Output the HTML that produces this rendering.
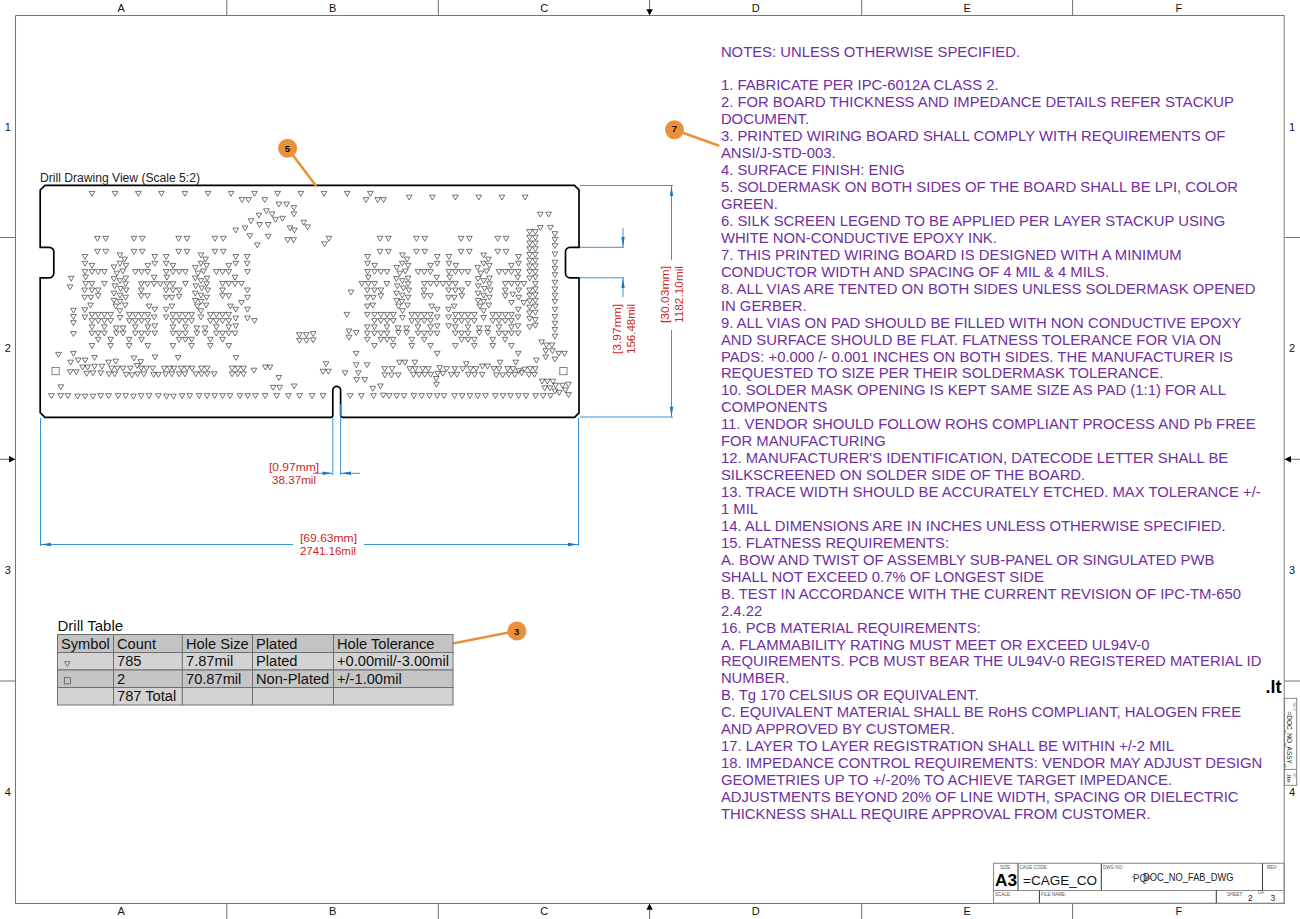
<!DOCTYPE html><html><head><meta charset="utf-8"><style>html,body{margin:0;padding:0;background:#fff;width:1300px;height:919px;overflow:hidden}svg{display:block}text{font-family:"Liberation Sans",sans-serif}</style></head><body>
<svg width="1300" height="919" viewBox="0 0 1300 919">
<g stroke="#767676" stroke-width="1.05" fill="none">
<path d="M15.5 15.5H1284.5M15.5 15.5V903.5M15 903.5H1285"/><line x1="1284.2" y1="15" x2="1284.2" y2="904" stroke="#9a9a9a" stroke-width="1.3"/>
<line x1="226.8" y1="0" x2="226.8" y2="15.5"/><line x1="226.8" y1="903.5" x2="226.8" y2="919"/>
<line x1="438.3" y1="0" x2="438.3" y2="15.5"/><line x1="438.3" y1="903.5" x2="438.3" y2="919"/>
<line x1="861.7" y1="0" x2="861.7" y2="15.5"/><line x1="861.7" y1="903.5" x2="861.7" y2="919"/>
<line x1="1072.6" y1="0" x2="1072.6" y2="15.5"/><line x1="1072.6" y1="903.5" x2="1072.6" y2="919"/>
<line x1="0" y1="237.5" x2="15.5" y2="237.5"/><line x1="1284.5" y1="237.5" x2="1300" y2="237.5"/>
<line x1="0" y1="681" x2="15.5" y2="681"/><line x1="1284.5" y1="681" x2="1300" y2="681"/>
</g>
<g stroke="#555" stroke-width="0.9">
<line x1="649.6" y1="0" x2="649.6" y2="10"/><line x1="649.6" y1="909" x2="649.6" y2="919"/><line x1="0" y1="459.3" x2="9" y2="459.3"/><line x1="1291" y1="459.3" x2="1300" y2="459.3"/>
</g><g fill="#000">
<polygon points="646.4,9.2 652.8,9.2 649.6,15.5"/><polygon points="646.4,909.8 652.8,909.8 649.6,903.5"/>
<polygon points="9,456.1 9,462.5 15.5,459.3"/><polygon points="1291,456.1 1291,462.5 1284.5,459.3"/>
</g>
<g font-size="11" fill="#111" text-anchor="middle">
<text x="121.25" y="12.3">A</text><text x="121.25" y="914.5">A</text>
<text x="332.75" y="12.3">B</text><text x="332.75" y="914.5">B</text>
<text x="544.25" y="12.3">C</text><text x="544.25" y="914.5">C</text>
<text x="755.75" y="12.3">D</text><text x="755.75" y="914.5">D</text>
<text x="967.25" y="12.3">E</text><text x="967.25" y="914.5">E</text>
<text x="1178.75" y="12.3">F</text><text x="1178.75" y="914.5">F</text>
<text x="7.7" y="130.5">1</text><text x="1292" y="130.5">1</text>
<text x="7.7" y="352.3">2</text><text x="1292" y="352.3">2</text>
<text x="7.7" y="574.1">3</text><text x="1292" y="574.1">3</text>
<text x="7.7" y="796">4</text><text x="1292" y="796">4</text>
</g>
<g font-size="14.85" fill="#7030A0">
<text x="720.9" y="56.60">NOTES: UNLESS OTHERWISE SPECIFIED.</text>
<text x="720.9" y="90.48">1. FABRICATE PER IPC-6012A CLASS 2.</text>
<text x="720.9" y="107.42">2. FOR BOARD THICKNESS AND IMPEDANCE DETAILS REFER STACKUP</text>
<text x="720.9" y="124.36">DOCUMENT.</text>
<text x="720.9" y="141.30">3. PRINTED WIRING BOARD SHALL COMPLY WITH REQUIREMENTS OF</text>
<text x="720.9" y="158.24">ANSI/J-STD-003.</text>
<text x="720.9" y="175.18">4. SURFACE FINISH: ENIG</text>
<text x="720.9" y="192.12">5. SOLDERMASK ON BOTH SIDES OF THE BOARD SHALL BE LPI, COLOR</text>
<text x="720.9" y="209.06">GREEN.</text>
<text x="720.9" y="226.00">6. SILK SCREEN LEGEND TO BE APPLIED PER LAYER STACKUP USING</text>
<text x="720.9" y="242.94">WHITE NON-CONDUCTIVE EPOXY INK.</text>
<text x="720.9" y="259.88">7. THIS PRINTED WIRING BOARD IS DESIGNED WITH A MINIMUM</text>
<text x="720.9" y="276.82">CONDUCTOR WIDTH AND SPACING OF 4 MIL &amp; 4 MILS.</text>
<text x="720.9" y="293.76">8. ALL VIAS ARE TENTED ON BOTH SIDES UNLESS SOLDERMASK OPENED</text>
<text x="720.9" y="310.70">IN GERBER.</text>
<text x="720.9" y="327.64">9. ALL VIAS ON PAD SHOULD BE FILLED WITH NON CONDUCTIVE EPOXY</text>
<text x="720.9" y="344.58">AND SURFACE SHOULD BE FLAT. FLATNESS TOLERANCE FOR VIA ON</text>
<text x="720.9" y="361.52">PADS: +0.000 /- 0.001 INCHES ON BOTH SIDES. THE MANUFACTURER IS</text>
<text x="720.9" y="378.46">REQUESTED TO SIZE PER THEIR SOLDERMASK TOLERANCE.</text>
<text x="720.9" y="395.40">10. SOLDER MASK OPENING IS KEPT SAME SIZE AS PAD (1:1) FOR ALL</text>
<text x="720.9" y="412.34">COMPONENTS</text>
<text x="720.9" y="429.28">11. VENDOR SHOULD FOLLOW ROHS COMPLIANT PROCESS AND Pb FREE</text>
<text x="720.9" y="446.22">FOR MANUFACTURING</text>
<text x="720.9" y="463.16">12. MANUFACTURER'S IDENTIFICATION, DATECODE LETTER SHALL BE</text>
<text x="720.9" y="480.10">SILKSCREENED ON SOLDER SIDE OF THE BOARD.</text>
<text x="720.9" y="497.04">13. TRACE WIDTH SHOULD BE ACCURATELY ETCHED. MAX TOLERANCE +/-</text>
<text x="720.9" y="513.98">1 MIL</text>
<text x="720.9" y="530.92">14. ALL DIMENSIONS ARE IN INCHES UNLESS OTHERWISE SPECIFIED.</text>
<text x="720.9" y="547.86">15. FLATNESS REQUIREMENTS:</text>
<text x="720.9" y="564.80">A. BOW AND TWIST OF ASSEMBLY SUB-PANEL OR SINGULATED PWB</text>
<text x="720.9" y="581.74">SHALL NOT EXCEED 0.7% OF LONGEST SIDE</text>
<text x="720.9" y="598.68">B. TEST IN ACCORDANCE WITH THE CURRENT REVISION OF IPC-TM-650</text>
<text x="720.9" y="615.62">2.4.22</text>
<text x="720.9" y="632.56">16. PCB MATERIAL REQUIREMENTS:</text>
<text x="720.9" y="649.50">A. FLAMMABILITY RATING MUST MEET OR EXCEED UL94V-0</text>
<text x="720.9" y="666.44">REQUIREMENTS. PCB MUST BEAR THE UL94V-0 REGISTERED MATERIAL ID</text>
<text x="720.9" y="683.38">NUMBER.</text>
<text x="720.9" y="700.32">B. Tg 170 CELSIUS OR EQUIVALENT.</text>
<text x="720.9" y="717.26">C. EQUIVALENT MATERIAL SHALL BE RoHS COMPLIANT, HALOGEN FREE</text>
<text x="720.9" y="734.20">AND APPROVED BY CUSTOMER.</text>
<text x="720.9" y="751.14">17. LAYER TO LAYER REGISTRATION SHALL BE WITHIN +/-2 MIL</text>
<text x="720.9" y="768.08">18. IMPEDANCE CONTROL REQUIREMENTS: VENDOR MAY ADJUST DESIGN</text>
<text x="720.9" y="785.02">GEOMETRIES UP TO +/-20% TO ACHIEVE TARGET IMPEDANCE.</text>
<text x="720.9" y="801.96">ADJUSTMENTS BEYOND 20% OF LINE WIDTH, SPACING OR DIELECTRIC</text>
<text x="720.9" y="818.90">THICKNESS SHALL REQUIRE APPROVAL FROM CUSTOMER.</text>
</g>
<path d="M89.07 191.38h5.7l-2.85 4.9zM112.23 191.38h5.7l-2.85 4.9zM135.49 191.38h5.7l-2.85 4.9zM158.65 191.38h5.7l-2.85 4.9zM94.57 236.34h5.7l-2.85 4.9zM102.88 236.34h5.7l-2.85 4.9zM131.13 236.34h5.7l-2.85 4.9zM139.43 236.34h5.7l-2.85 4.9zM94.57 249.32h5.7l-2.85 4.9zM102.88 249.32h5.7l-2.85 4.9zM131.13 249.32h5.7l-2.85 4.9zM139.43 249.32h5.7l-2.85 4.9zM82.11 254.51h5.7l-2.85 4.9zM117.11 252.96h5.7l-2.85 4.9zM151.90 254.51h5.7l-2.85 4.9zM163.32 254.51h5.7l-2.85 4.9zM121.78 257.11h5.7l-2.85 4.9zM82.11 261.26h5.7l-2.85 4.9zM89.07 263.34h5.7l-2.85 4.9zM117.11 261.26h5.7l-2.85 4.9zM123.13 263.34h5.7l-2.85 4.9zM144.94 263.34h5.7l-2.85 4.9zM151.90 261.26h5.7l-2.85 4.9zM163.32 261.26h5.7l-2.85 4.9zM170.07 263.34h5.7l-2.85 4.9zM111.09 264.90h5.7l-2.85 4.9zM82.11 269.57h5.7l-2.85 4.9zM89.07 269.57h5.7l-2.85 4.9zM95.30 269.57h5.7l-2.85 4.9zM101.53 269.57h5.7l-2.85 4.9zM119.91 269.05h5.7l-2.85 4.9zM132.48 269.57h5.7l-2.85 4.9zM138.71 269.57h5.7l-2.85 4.9zM144.94 269.57h5.7l-2.85 4.9zM163.32 269.57h5.7l-2.85 4.9zM170.07 269.57h5.7l-2.85 4.9zM113.99 271.13h5.7l-2.85 4.9zM68.30 276.26h5.7l-2.85 4.9zM82.84 275.02h5.7l-2.85 4.9zM111.09 276.57h5.7l-2.85 4.9zM122.82 276.05h5.7l-2.85 4.9zM151.17 275.22h5.7l-2.85 4.9zM164.05 275.22h5.7l-2.85 4.9zM117.11 278.65h5.7l-2.85 4.9zM67.26 284.88h5.7l-2.85 4.9zM82.84 281.45h5.7l-2.85 4.9zM89.07 281.45h5.7l-2.85 4.9zM101.53 281.45h5.7l-2.85 4.9zM111.92 283.84h5.7l-2.85 4.9zM122.82 281.77h5.7l-2.85 4.9zM138.40 281.77h5.7l-2.85 4.9zM144.63 281.77h5.7l-2.85 4.9zM151.17 281.45h5.7l-2.85 4.9zM157.61 281.77h5.7l-2.85 4.9zM164.05 281.77h5.7l-2.85 4.9zM170.07 281.77h5.7l-2.85 4.9zM81.80 288.00h5.7l-2.85 4.9zM89.07 288.00h5.7l-2.85 4.9zM95.30 288.00h5.7l-2.85 4.9zM117.63 286.44h5.7l-2.85 4.9zM123.34 288.00h5.7l-2.85 4.9zM138.40 288.00h5.7l-2.85 4.9zM163.32 288.00h5.7l-2.85 4.9zM170.07 288.00h5.7l-2.85 4.9zM111.09 291.11h5.7l-2.85 4.9zM81.80 295.26h5.7l-2.85 4.9zM88.03 295.26h5.7l-2.85 4.9zM95.30 293.71h5.7l-2.85 4.9zM117.11 293.19h5.7l-2.85 4.9zM122.82 295.26h5.7l-2.85 4.9zM138.40 293.71h5.7l-2.85 4.9zM144.63 293.71h5.7l-2.85 4.9zM163.32 295.26h5.7l-2.85 4.9zM169.03 295.26h5.7l-2.85 4.9zM111.09 298.38h5.7l-2.85 4.9zM117.11 299.42h5.7l-2.85 4.9zM87.72 303.05h5.7l-2.85 4.9zM112.95 304.09h5.7l-2.85 4.9zM122.30 303.05h5.7l-2.85 4.9zM146.18 304.09h5.7l-2.85 4.9zM151.90 307.21h5.7l-2.85 4.9zM163.32 307.21h5.7l-2.85 4.9zM169.03 304.09h5.7l-2.85 4.9zM70.59 308.24h5.7l-2.85 4.9zM82.01 307.73h5.7l-2.85 4.9zM117.11 308.76h5.7l-2.85 4.9zM70.59 314.48h5.7l-2.85 4.9zM82.01 314.99h5.7l-2.85 4.9zM89.07 312.40h5.7l-2.85 4.9zM95.30 312.40h5.7l-2.85 4.9zM101.53 312.40h5.7l-2.85 4.9zM107.76 312.40h5.7l-2.85 4.9zM117.11 315.51h5.7l-2.85 4.9zM126.45 312.40h5.7l-2.85 4.9zM132.48 312.40h5.7l-2.85 4.9zM138.71 312.40h5.7l-2.85 4.9zM144.94 312.40h5.7l-2.85 4.9zM151.38 314.99h5.7l-2.85 4.9zM163.32 314.99h5.7l-2.85 4.9zM170.07 312.40h5.7l-2.85 4.9zM70.59 320.71h5.7l-2.85 4.9zM89.07 318.63h5.7l-2.85 4.9zM95.30 318.63h5.7l-2.85 4.9zM101.53 318.63h5.7l-2.85 4.9zM107.76 318.63h5.7l-2.85 4.9zM126.45 318.63h5.7l-2.85 4.9zM132.48 318.63h5.7l-2.85 4.9zM138.71 318.63h5.7l-2.85 4.9zM144.94 318.63h5.7l-2.85 4.9zM170.07 318.63h5.7l-2.85 4.9zM89.07 324.86h5.7l-2.85 4.9zM101.53 324.86h5.7l-2.85 4.9zM113.47 325.90h5.7l-2.85 4.9zM120.22 325.90h5.7l-2.85 4.9zM132.48 324.86h5.7l-2.85 4.9zM144.94 324.86h5.7l-2.85 4.9zM151.90 323.82h5.7l-2.85 4.9zM170.07 324.86h5.7l-2.85 4.9zM70.59 331.61h5.7l-2.85 4.9zM89.07 331.09h5.7l-2.85 4.9zM95.30 331.09h5.7l-2.85 4.9zM101.53 331.09h5.7l-2.85 4.9zM113.47 331.09h5.7l-2.85 4.9zM120.22 331.09h5.7l-2.85 4.9zM132.48 331.09h5.7l-2.85 4.9zM138.71 331.09h5.7l-2.85 4.9zM144.94 331.09h5.7l-2.85 4.9zM151.90 331.09h5.7l-2.85 4.9zM170.07 331.09h5.7l-2.85 4.9zM95.30 337.32h5.7l-2.85 4.9zM107.76 337.32h5.7l-2.85 4.9zM126.25 337.32h5.7l-2.85 4.9zM138.71 337.32h5.7l-2.85 4.9zM89.07 343.55h5.7l-2.85 4.9zM107.76 343.55h5.7l-2.85 4.9zM126.25 343.55h5.7l-2.85 4.9zM144.94 343.55h5.7l-2.85 4.9zM170.07 343.55h5.7l-2.85 4.9zM55.63 352.38h5.7l-2.85 4.9zM70.59 351.34h5.7l-2.85 4.9zM91.67 355.49h5.7l-2.85 4.9zM131.13 356.01h5.7l-2.85 4.9zM152.21 354.97h5.7l-2.85 4.9zM67.78 360.17h5.7l-2.85 4.9zM75.36 358.09h5.7l-2.85 4.9zM82.32 358.09h5.7l-2.85 4.9zM105.69 360.17h5.7l-2.85 4.9zM112.95 359.13h5.7l-2.85 4.9zM137.88 359.65h5.7l-2.85 4.9zM79.73 365.09h5.7l-2.85 4.9zM84.71 365.09h5.7l-2.85 4.9zM91.67 364.26h5.7l-2.85 4.9zM99.14 364.26h5.7l-2.85 4.9zM108.80 366.13h5.7l-2.85 4.9zM114.51 366.13h5.7l-2.85 4.9zM120.22 366.13h5.7l-2.85 4.9zM127.49 366.13h5.7l-2.85 4.9zM134.24 363.53h5.7l-2.85 4.9zM138.40 366.13h5.7l-2.85 4.9zM143.59 366.13h5.7l-2.85 4.9zM149.82 366.13h5.7l-2.85 4.9zM161.24 366.13h5.7l-2.85 4.9zM166.95 366.13h5.7l-2.85 4.9zM171.11 366.13h5.7l-2.85 4.9zM67.26 369.77h5.7l-2.85 4.9zM73.49 369.77h5.7l-2.85 4.9zM83.88 371.32h5.7l-2.85 4.9zM90.11 370.80h5.7l-2.85 4.9zM97.90 370.80h5.7l-2.85 4.9zM106.21 371.84h5.7l-2.85 4.9zM111.92 371.84h5.7l-2.85 4.9zM123.34 372.36h5.7l-2.85 4.9zM129.05 372.88h5.7l-2.85 4.9zM134.76 371.84h5.7l-2.85 4.9zM140.99 371.84h5.7l-2.85 4.9zM150.86 372.36h5.7l-2.85 4.9zM155.53 372.36h5.7l-2.85 4.9zM162.80 371.84h5.7l-2.85 4.9zM169.03 371.84h5.7l-2.85 4.9zM57.92 384.82h5.7l-2.85 4.9zM48.57 393.65h5.7l-2.85 4.9zM57.92 393.65h5.7l-2.85 4.9zM64.98 393.65h5.7l-2.85 4.9zM74.74 394.17h5.7l-2.85 4.9zM82.32 394.17h5.7l-2.85 4.9zM90.11 394.17h5.7l-2.85 4.9zM97.90 393.65h5.7l-2.85 4.9zM105.69 393.65h5.7l-2.85 4.9zM115.24 393.65h5.7l-2.85 4.9zM122.82 393.65h5.7l-2.85 4.9zM130.61 394.17h5.7l-2.85 4.9zM138.40 393.65h5.7l-2.85 4.9zM146.18 393.65h5.7l-2.85 4.9zM155.53 393.65h5.7l-2.85 4.9zM163.63 394.17h5.7l-2.85 4.9zM170.59 394.17h5.7l-2.85 4.9zM182.02 191.38h5.7l-2.85 4.9zM205.17 191.38h5.7l-2.85 4.9zM228.22 191.38h5.7l-2.85 4.9zM251.59 191.38h5.7l-2.85 4.9zM274.75 191.38h5.7l-2.85 4.9zM298.01 191.38h5.7l-2.85 4.9zM239.13 197.61h5.7l-2.85 4.9zM245.67 197.61h5.7l-2.85 4.9zM261.97 197.61h5.7l-2.85 4.9zM275.99 202.07h5.7l-2.85 4.9zM283.78 202.07h5.7l-2.85 4.9zM291.05 205.71h5.7l-2.85 4.9zM263.53 208.82h5.7l-2.85 4.9zM269.24 211.94h5.7l-2.85 4.9zM291.05 211.94h5.7l-2.85 4.9zM256.05 213.18h5.7l-2.85 4.9zM272.67 217.34h5.7l-2.85 4.9zM279.63 216.30h5.7l-2.85 4.9zM248.16 218.69h5.7l-2.85 4.9zM256.78 222.53h5.7l-2.85 4.9zM265.40 222.53h5.7l-2.85 4.9zM300.91 220.24h5.7l-2.85 4.9zM304.86 224.92h5.7l-2.85 4.9zM232.90 228.03h5.7l-2.85 4.9zM242.24 225.96h5.7l-2.85 4.9zM287.21 225.96h5.7l-2.85 4.9zM291.57 228.03h5.7l-2.85 4.9zM175.78 236.34h5.7l-2.85 4.9zM184.09 236.34h5.7l-2.85 4.9zM212.13 236.34h5.7l-2.85 4.9zM220.44 236.34h5.7l-2.85 4.9zM246.92 233.74h5.7l-2.85 4.9zM265.40 234.26h5.7l-2.85 4.9zM284.82 237.69h5.7l-2.85 4.9zM290.74 237.69h5.7l-2.85 4.9zM254.39 242.88h5.7l-2.85 4.9zM175.78 249.32h5.7l-2.85 4.9zM184.09 249.32h5.7l-2.85 4.9zM212.13 249.32h5.7l-2.85 4.9zM220.44 249.32h5.7l-2.85 4.9zM198.11 252.96h5.7l-2.85 4.9zM202.78 257.11h5.7l-2.85 4.9zM232.90 254.51h5.7l-2.85 4.9zM244.32 254.51h5.7l-2.85 4.9zM198.11 261.26h5.7l-2.85 4.9zM203.82 263.34h5.7l-2.85 4.9zM225.94 263.34h5.7l-2.85 4.9zM232.90 261.26h5.7l-2.85 4.9zM244.32 261.26h5.7l-2.85 4.9zM192.40 265.42h5.7l-2.85 4.9zM176.30 269.57h5.7l-2.85 4.9zM182.53 269.57h5.7l-2.85 4.9zM200.71 269.05h5.7l-2.85 4.9zM213.48 269.57h5.7l-2.85 4.9zM219.71 269.57h5.7l-2.85 4.9zM225.94 269.57h5.7l-2.85 4.9zM244.63 269.57h5.7l-2.85 4.9zM195.20 271.13h5.7l-2.85 4.9zM192.40 276.05h5.7l-2.85 4.9zM204.13 276.05h5.7l-2.85 4.9zM232.17 275.22h5.7l-2.85 4.9zM198.11 278.65h5.7l-2.85 4.9zM182.53 281.45h5.7l-2.85 4.9zM192.92 283.84h5.7l-2.85 4.9zM203.82 281.77h5.7l-2.85 4.9zM219.71 281.45h5.7l-2.85 4.9zM225.94 281.45h5.7l-2.85 4.9zM232.17 281.45h5.7l-2.85 4.9zM238.61 281.45h5.7l-2.85 4.9zM176.30 288.00h5.7l-2.85 4.9zM198.94 285.92h5.7l-2.85 4.9zM204.86 288.00h5.7l-2.85 4.9zM219.71 288.00h5.7l-2.85 4.9zM244.63 288.00h5.7l-2.85 4.9zM192.40 291.11h5.7l-2.85 4.9zM176.30 294.23h5.7l-2.85 4.9zM198.11 293.19h5.7l-2.85 4.9zM203.82 295.26h5.7l-2.85 4.9zM219.71 293.71h5.7l-2.85 4.9zM225.94 293.71h5.7l-2.85 4.9zM244.63 295.26h5.7l-2.85 4.9zM192.40 298.38h5.7l-2.85 4.9zM198.11 299.42h5.7l-2.85 4.9zM238.61 300.46h5.7l-2.85 4.9zM194.48 304.09h5.7l-2.85 4.9zM203.30 303.05h5.7l-2.85 4.9zM227.50 304.09h5.7l-2.85 4.9zM232.90 307.21h5.7l-2.85 4.9zM244.63 307.21h5.7l-2.85 4.9zM198.11 308.76h5.7l-2.85 4.9zM176.30 312.40h5.7l-2.85 4.9zM182.53 312.40h5.7l-2.85 4.9zM188.76 312.40h5.7l-2.85 4.9zM207.46 312.40h5.7l-2.85 4.9zM213.48 312.40h5.7l-2.85 4.9zM219.71 312.40h5.7l-2.85 4.9zM225.94 312.40h5.7l-2.85 4.9zM198.11 314.99h5.7l-2.85 4.9zM232.90 316.03h5.7l-2.85 4.9zM244.63 316.03h5.7l-2.85 4.9zM251.59 318.63h5.7l-2.85 4.9zM176.30 318.63h5.7l-2.85 4.9zM182.53 318.63h5.7l-2.85 4.9zM188.76 318.63h5.7l-2.85 4.9zM207.46 318.63h5.7l-2.85 4.9zM213.48 318.63h5.7l-2.85 4.9zM219.71 318.63h5.7l-2.85 4.9zM225.94 318.63h5.7l-2.85 4.9zM182.53 324.86h5.7l-2.85 4.9zM193.96 325.90h5.7l-2.85 4.9zM202.26 325.90h5.7l-2.85 4.9zM213.48 324.86h5.7l-2.85 4.9zM225.94 324.86h5.7l-2.85 4.9zM232.90 323.82h5.7l-2.85 4.9zM176.30 331.09h5.7l-2.85 4.9zM182.53 331.09h5.7l-2.85 4.9zM193.96 331.09h5.7l-2.85 4.9zM202.26 331.09h5.7l-2.85 4.9zM213.48 331.09h5.7l-2.85 4.9zM219.71 331.09h5.7l-2.85 4.9zM225.94 331.09h5.7l-2.85 4.9zM232.17 331.09h5.7l-2.85 4.9zM176.30 337.32h5.7l-2.85 4.9zM182.53 337.32h5.7l-2.85 4.9zM188.76 337.32h5.7l-2.85 4.9zM207.46 337.32h5.7l-2.85 4.9zM219.71 337.32h5.7l-2.85 4.9zM296.55 332.65h5.7l-2.85 4.9zM303.51 332.65h5.7l-2.85 4.9zM296.55 338.36h5.7l-2.85 4.9zM303.51 338.36h5.7l-2.85 4.9zM188.76 343.55h5.7l-2.85 4.9zM207.46 343.55h5.7l-2.85 4.9zM225.94 343.55h5.7l-2.85 4.9zM175.27 355.49h5.7l-2.85 4.9zM233.21 355.49h5.7l-2.85 4.9zM178.38 366.13h5.7l-2.85 4.9zM184.09 366.13h5.7l-2.85 4.9zM189.28 366.13h5.7l-2.85 4.9zM198.63 366.13h5.7l-2.85 4.9zM204.34 366.13h5.7l-2.85 4.9zM229.26 366.13h5.7l-2.85 4.9zM234.97 366.13h5.7l-2.85 4.9zM240.69 366.13h5.7l-2.85 4.9zM251.07 368.21h5.7l-2.85 4.9zM262.49 365.09h5.7l-2.85 4.9zM267.17 365.09h5.7l-2.85 4.9zM176.30 371.84h5.7l-2.85 4.9zM182.02 371.84h5.7l-2.85 4.9zM192.92 371.84h5.7l-2.85 4.9zM198.63 371.84h5.7l-2.85 4.9zM204.34 371.84h5.7l-2.85 4.9zM211.40 371.84h5.7l-2.85 4.9zM229.26 371.84h5.7l-2.85 4.9zM234.97 371.84h5.7l-2.85 4.9zM240.69 371.84h5.7l-2.85 4.9zM275.99 375.48h5.7l-2.85 4.9zM270.28 385.34h5.7l-2.85 4.9zM276.82 385.34h5.7l-2.85 4.9zM291.36 383.99h5.7l-2.85 4.9zM179.21 393.65h5.7l-2.85 4.9zM186.90 393.65h5.7l-2.85 4.9zM196.24 393.65h5.7l-2.85 4.9zM204.13 393.65h5.7l-2.85 4.9zM211.82 393.65h5.7l-2.85 4.9zM219.71 393.65h5.7l-2.85 4.9zM227.19 393.65h5.7l-2.85 4.9zM237.05 393.65h5.7l-2.85 4.9zM244.84 393.65h5.7l-2.85 4.9zM252.63 393.65h5.7l-2.85 4.9zM262.28 393.65h5.7l-2.85 4.9zM273.92 393.65h5.7l-2.85 4.9zM285.55 393.65h5.7l-2.85 4.9zM296.76 393.65h5.7l-2.85 4.9zM321.17 191.38h5.7l-2.85 4.9zM344.33 191.38h5.7l-2.85 4.9zM367.59 191.38h5.7l-2.85 4.9zM363.22 197.61h5.7l-2.85 4.9zM374.86 197.61h5.7l-2.85 4.9zM380.67 197.61h5.7l-2.85 4.9zM406.32 195.11h5.7l-2.85 4.9zM429.48 195.11h5.7l-2.85 4.9zM326.05 236.34h5.7l-2.85 4.9zM321.69 241.84h5.7l-2.85 4.9zM377.24 236.34h5.7l-2.85 4.9zM385.55 236.34h5.7l-2.85 4.9zM413.59 236.34h5.7l-2.85 4.9zM421.90 236.34h5.7l-2.85 4.9zM377.24 249.32h5.7l-2.85 4.9zM385.55 249.32h5.7l-2.85 4.9zM413.59 249.32h5.7l-2.85 4.9zM421.90 249.32h5.7l-2.85 4.9zM364.78 254.51h5.7l-2.85 4.9zM399.57 252.96h5.7l-2.85 4.9zM404.24 257.11h5.7l-2.85 4.9zM434.36 254.51h5.7l-2.85 4.9zM364.78 261.26h5.7l-2.85 4.9zM371.74 263.34h5.7l-2.85 4.9zM399.36 261.26h5.7l-2.85 4.9zM405.28 263.34h5.7l-2.85 4.9zM393.86 265.42h5.7l-2.85 4.9zM427.61 263.34h5.7l-2.85 4.9zM434.36 261.26h5.7l-2.85 4.9zM364.78 269.57h5.7l-2.85 4.9zM371.74 269.57h5.7l-2.85 4.9zM377.97 269.57h5.7l-2.85 4.9zM384.20 269.57h5.7l-2.85 4.9zM402.48 269.05h5.7l-2.85 4.9zM415.15 269.57h5.7l-2.85 4.9zM421.38 269.57h5.7l-2.85 4.9zM427.61 269.57h5.7l-2.85 4.9zM396.97 271.13h5.7l-2.85 4.9zM365.51 275.22h5.7l-2.85 4.9zM393.55 276.57h5.7l-2.85 4.9zM405.28 276.05h5.7l-2.85 4.9zM433.84 275.22h5.7l-2.85 4.9zM399.57 278.65h5.7l-2.85 4.9zM359.07 281.45h5.7l-2.85 4.9zM365.51 281.45h5.7l-2.85 4.9zM371.74 281.45h5.7l-2.85 4.9zM383.99 281.45h5.7l-2.85 4.9zM394.38 283.84h5.7l-2.85 4.9zM405.28 281.77h5.7l-2.85 4.9zM421.38 281.45h5.7l-2.85 4.9zM427.61 281.45h5.7l-2.85 4.9zM433.84 281.45h5.7l-2.85 4.9zM440.07 281.45h5.7l-2.85 4.9zM348.17 290.07h5.7l-2.85 4.9zM364.47 288.00h5.7l-2.85 4.9zM371.53 288.00h5.7l-2.85 4.9zM377.97 288.00h5.7l-2.85 4.9zM400.40 285.92h5.7l-2.85 4.9zM406.01 288.00h5.7l-2.85 4.9zM421.17 288.00h5.7l-2.85 4.9zM393.55 291.11h5.7l-2.85 4.9zM364.47 295.26h5.7l-2.85 4.9zM370.49 295.26h5.7l-2.85 4.9zM377.97 293.71h5.7l-2.85 4.9zM399.36 293.19h5.7l-2.85 4.9zM405.28 295.26h5.7l-2.85 4.9zM421.17 293.71h5.7l-2.85 4.9zM427.61 293.71h5.7l-2.85 4.9zM393.86 298.38h5.7l-2.85 4.9zM399.05 299.42h5.7l-2.85 4.9zM364.47 304.09h5.7l-2.85 4.9zM369.97 303.05h5.7l-2.85 4.9zM395.62 304.09h5.7l-2.85 4.9zM404.76 303.05h5.7l-2.85 4.9zM428.85 304.09h5.7l-2.85 4.9zM434.36 307.21h5.7l-2.85 4.9zM399.57 308.76h5.7l-2.85 4.9zM344.01 312.40h5.7l-2.85 4.9zM364.47 312.40h5.7l-2.85 4.9zM371.74 312.40h5.7l-2.85 4.9zM377.97 312.40h5.7l-2.85 4.9zM384.20 312.40h5.7l-2.85 4.9zM390.43 312.40h5.7l-2.85 4.9zM399.57 315.51h5.7l-2.85 4.9zM408.92 312.40h5.7l-2.85 4.9zM415.15 312.40h5.7l-2.85 4.9zM421.38 312.40h5.7l-2.85 4.9zM427.61 312.40h5.7l-2.85 4.9zM434.36 314.99h5.7l-2.85 4.9zM371.53 318.63h5.7l-2.85 4.9zM377.97 318.63h5.7l-2.85 4.9zM384.20 318.63h5.7l-2.85 4.9zM390.43 318.63h5.7l-2.85 4.9zM408.92 318.63h5.7l-2.85 4.9zM415.15 318.63h5.7l-2.85 4.9zM421.38 318.63h5.7l-2.85 4.9zM427.61 318.63h5.7l-2.85 4.9zM364.47 324.86h5.7l-2.85 4.9zM371.53 324.86h5.7l-2.85 4.9zM383.99 324.86h5.7l-2.85 4.9zM395.21 325.90h5.7l-2.85 4.9zM403.72 325.90h5.7l-2.85 4.9zM415.15 324.86h5.7l-2.85 4.9zM427.61 324.86h5.7l-2.85 4.9zM434.36 323.82h5.7l-2.85 4.9zM310.27 331.61h5.7l-2.85 4.9zM346.09 329.01h5.7l-2.85 4.9zM353.36 330.57h5.7l-2.85 4.9zM364.47 331.09h5.7l-2.85 4.9zM371.53 331.09h5.7l-2.85 4.9zM377.97 331.09h5.7l-2.85 4.9zM384.20 331.09h5.7l-2.85 4.9zM395.62 330.57h5.7l-2.85 4.9zM403.72 330.57h5.7l-2.85 4.9zM415.15 331.09h5.7l-2.85 4.9zM421.38 331.09h5.7l-2.85 4.9zM427.61 331.09h5.7l-2.85 4.9zM434.36 331.09h5.7l-2.85 4.9zM310.27 337.84h5.7l-2.85 4.9zM346.09 335.24h5.7l-2.85 4.9zM364.47 337.32h5.7l-2.85 4.9zM377.97 337.32h5.7l-2.85 4.9zM384.20 337.32h5.7l-2.85 4.9zM390.22 337.32h5.7l-2.85 4.9zM408.92 337.32h5.7l-2.85 4.9zM421.38 337.32h5.7l-2.85 4.9zM371.53 343.55h5.7l-2.85 4.9zM390.22 343.55h5.7l-2.85 4.9zM408.92 343.55h5.7l-2.85 4.9zM427.61 343.55h5.7l-2.85 4.9zM353.36 351.34h5.7l-2.85 4.9zM434.36 351.34h5.7l-2.85 4.9zM323.25 361.72h5.7l-2.85 4.9zM353.36 362.76h5.7l-2.85 4.9zM364.26 362.76h5.7l-2.85 4.9zM396.66 360.17h5.7l-2.85 4.9zM402.17 360.17h5.7l-2.85 4.9zM412.03 360.17h5.7l-2.85 4.9zM320.13 369.25h5.7l-2.85 4.9zM325.63 369.25h5.7l-2.85 4.9zM342.25 370.80h5.7l-2.85 4.9zM355.44 370.80h5.7l-2.85 4.9zM381.92 366.65h5.7l-2.85 4.9zM389.19 366.65h5.7l-2.85 4.9zM406.84 366.65h5.7l-2.85 4.9zM412.55 366.65h5.7l-2.85 4.9zM419.82 366.65h5.7l-2.85 4.9zM425.53 366.65h5.7l-2.85 4.9zM436.95 365.61h5.7l-2.85 4.9zM381.92 372.88h5.7l-2.85 4.9zM388.67 372.88h5.7l-2.85 4.9zM395.42 372.88h5.7l-2.85 4.9zM410.47 372.36h5.7l-2.85 4.9zM416.18 372.36h5.7l-2.85 4.9zM421.90 372.36h5.7l-2.85 4.9zM427.81 372.36h5.7l-2.85 4.9zM434.88 371.32h5.7l-2.85 4.9zM440.07 371.32h5.7l-2.85 4.9zM353.88 377.55h5.7l-2.85 4.9zM361.98 377.55h5.7l-2.85 4.9zM433.32 376.51h5.7l-2.85 4.9zM433.63 382.23h5.7l-2.85 4.9zM369.97 386.38h5.7l-2.85 4.9zM377.55 383.99h5.7l-2.85 4.9zM309.23 393.65h5.7l-2.85 4.9zM320.13 393.65h5.7l-2.85 4.9zM347.44 393.65h5.7l-2.85 4.9zM358.55 393.65h5.7l-2.85 4.9zM370.70 393.65h5.7l-2.85 4.9zM380.36 393.13h5.7l-2.85 4.9zM386.28 393.65h5.7l-2.85 4.9zM393.86 393.65h5.7l-2.85 4.9zM401.13 393.65h5.7l-2.85 4.9zM410.99 393.65h5.7l-2.85 4.9zM418.78 393.65h5.7l-2.85 4.9zM426.57 393.65h5.7l-2.85 4.9zM434.36 393.65h5.7l-2.85 4.9zM441.11 393.65h5.7l-2.85 4.9zM452.53 195.11h5.7l-2.85 4.9zM475.90 195.11h5.7l-2.85 4.9zM499.06 195.11h5.7l-2.85 4.9zM522.32 195.11h5.7l-2.85 4.9zM537.48 212.15h5.7l-2.85 4.9zM545.78 212.15h5.7l-2.85 4.9zM537.48 225.44h5.7l-2.85 4.9zM547.55 225.44h5.7l-2.85 4.9zM526.78 229.59h5.7l-2.85 4.9zM532.49 229.59h5.7l-2.85 4.9zM552.02 231.67h5.7l-2.85 4.9zM458.25 236.34h5.7l-2.85 4.9zM466.55 236.34h5.7l-2.85 4.9zM494.90 236.34h5.7l-2.85 4.9zM503.21 236.34h5.7l-2.85 4.9zM526.78 235.30h5.7l-2.85 4.9zM532.49 235.30h5.7l-2.85 4.9zM552.02 237.38h5.7l-2.85 4.9zM526.78 241.01h5.7l-2.85 4.9zM532.49 241.01h5.7l-2.85 4.9zM552.02 243.61h5.7l-2.85 4.9zM526.78 246.72h5.7l-2.85 4.9zM532.49 246.72h5.7l-2.85 4.9zM458.25 249.32h5.7l-2.85 4.9zM466.55 249.32h5.7l-2.85 4.9zM494.90 249.32h5.7l-2.85 4.9zM503.21 249.32h5.7l-2.85 4.9zM446.10 254.51h5.7l-2.85 4.9zM480.78 252.96h5.7l-2.85 4.9zM485.56 257.11h5.7l-2.85 4.9zM515.67 254.51h5.7l-2.85 4.9zM526.78 252.44h5.7l-2.85 4.9zM532.49 252.44h5.7l-2.85 4.9zM552.02 251.92h5.7l-2.85 4.9zM446.10 261.26h5.7l-2.85 4.9zM453.05 263.34h5.7l-2.85 4.9zM480.78 261.26h5.7l-2.85 4.9zM486.59 263.34h5.7l-2.85 4.9zM474.86 265.42h5.7l-2.85 4.9zM508.61 263.34h5.7l-2.85 4.9zM515.67 261.26h5.7l-2.85 4.9zM526.78 258.15h5.7l-2.85 4.9zM532.49 258.15h5.7l-2.85 4.9zM552.02 260.22h5.7l-2.85 4.9zM446.10 269.57h5.7l-2.85 4.9zM452.53 269.57h5.7l-2.85 4.9zM458.76 269.57h5.7l-2.85 4.9zM465.20 269.57h5.7l-2.85 4.9zM483.69 269.05h5.7l-2.85 4.9zM496.15 269.57h5.7l-2.85 4.9zM502.38 269.57h5.7l-2.85 4.9zM508.61 269.57h5.7l-2.85 4.9zM515.36 269.57h5.7l-2.85 4.9zM526.78 263.86h5.7l-2.85 4.9zM532.49 263.86h5.7l-2.85 4.9zM552.02 266.45h5.7l-2.85 4.9zM477.98 271.13h5.7l-2.85 4.9zM526.78 269.57h5.7l-2.85 4.9zM532.49 269.57h5.7l-2.85 4.9zM552.02 272.69h5.7l-2.85 4.9zM446.82 275.22h5.7l-2.85 4.9zM475.17 276.57h5.7l-2.85 4.9zM480.78 278.65h5.7l-2.85 4.9zM486.59 276.05h5.7l-2.85 4.9zM514.84 275.22h5.7l-2.85 4.9zM526.78 276.05h5.7l-2.85 4.9zM532.49 275.02h5.7l-2.85 4.9zM446.30 281.45h5.7l-2.85 4.9zM452.53 281.45h5.7l-2.85 4.9zM465.20 281.45h5.7l-2.85 4.9zM475.38 283.84h5.7l-2.85 4.9zM486.59 281.77h5.7l-2.85 4.9zM481.61 286.44h5.7l-2.85 4.9zM502.38 281.45h5.7l-2.85 4.9zM508.61 281.45h5.7l-2.85 4.9zM514.84 281.45h5.7l-2.85 4.9zM521.07 281.45h5.7l-2.85 4.9zM532.49 281.45h5.7l-2.85 4.9zM552.02 280.21h5.7l-2.85 4.9zM445.78 288.00h5.7l-2.85 4.9zM452.53 288.00h5.7l-2.85 4.9zM458.97 288.00h5.7l-2.85 4.9zM475.17 291.11h5.7l-2.85 4.9zM487.32 288.00h5.7l-2.85 4.9zM502.38 288.00h5.7l-2.85 4.9zM515.88 288.00h5.7l-2.85 4.9zM526.78 288.00h5.7l-2.85 4.9zM532.49 286.96h5.7l-2.85 4.9zM552.02 286.96h5.7l-2.85 4.9zM445.78 295.26h5.7l-2.85 4.9zM451.50 295.26h5.7l-2.85 4.9zM458.97 293.71h5.7l-2.85 4.9zM480.78 293.19h5.7l-2.85 4.9zM486.59 295.26h5.7l-2.85 4.9zM502.38 293.71h5.7l-2.85 4.9zM509.86 292.15h5.7l-2.85 4.9zM515.88 295.26h5.7l-2.85 4.9zM526.78 293.19h5.7l-2.85 4.9zM532.49 292.67h5.7l-2.85 4.9zM552.02 293.19h5.7l-2.85 4.9zM475.17 298.38h5.7l-2.85 4.9zM480.78 299.42h5.7l-2.85 4.9zM508.61 300.46h5.7l-2.85 4.9zM520.86 300.46h5.7l-2.85 4.9zM526.78 298.90h5.7l-2.85 4.9zM532.49 298.38h5.7l-2.85 4.9zM552.02 299.42h5.7l-2.85 4.9zM445.78 307.21h5.7l-2.85 4.9zM451.29 304.09h5.7l-2.85 4.9zM476.94 304.09h5.7l-2.85 4.9zM485.97 303.05h5.7l-2.85 4.9zM515.36 307.21h5.7l-2.85 4.9zM526.78 305.13h5.7l-2.85 4.9zM532.49 304.09h5.7l-2.85 4.9zM552.02 307.21h5.7l-2.85 4.9zM480.78 308.76h5.7l-2.85 4.9zM526.78 310.84h5.7l-2.85 4.9zM532.49 310.32h5.7l-2.85 4.9zM445.78 314.99h5.7l-2.85 4.9zM452.53 312.40h5.7l-2.85 4.9zM458.76 312.40h5.7l-2.85 4.9zM465.20 312.40h5.7l-2.85 4.9zM471.43 312.40h5.7l-2.85 4.9zM480.78 315.51h5.7l-2.85 4.9zM489.92 312.40h5.7l-2.85 4.9zM496.15 312.40h5.7l-2.85 4.9zM502.38 312.40h5.7l-2.85 4.9zM508.61 312.40h5.7l-2.85 4.9zM515.05 314.99h5.7l-2.85 4.9zM526.78 316.55h5.7l-2.85 4.9zM532.49 317.59h5.7l-2.85 4.9zM552.02 314.48h5.7l-2.85 4.9zM452.53 318.63h5.7l-2.85 4.9zM458.76 318.63h5.7l-2.85 4.9zM465.20 318.63h5.7l-2.85 4.9zM471.43 318.63h5.7l-2.85 4.9zM489.92 318.63h5.7l-2.85 4.9zM496.15 318.63h5.7l-2.85 4.9zM502.38 318.63h5.7l-2.85 4.9zM508.61 318.63h5.7l-2.85 4.9zM552.02 321.23h5.7l-2.85 4.9zM445.78 323.82h5.7l-2.85 4.9zM452.53 324.86h5.7l-2.85 4.9zM465.20 324.86h5.7l-2.85 4.9zM476.42 325.90h5.7l-2.85 4.9zM484.93 325.90h5.7l-2.85 4.9zM496.15 324.86h5.7l-2.85 4.9zM508.61 324.86h5.7l-2.85 4.9zM515.05 323.82h5.7l-2.85 4.9zM526.78 324.86h5.7l-2.85 4.9zM532.49 323.30h5.7l-2.85 4.9zM552.02 327.46h5.7l-2.85 4.9zM452.53 331.09h5.7l-2.85 4.9zM458.76 331.09h5.7l-2.85 4.9zM465.20 331.09h5.7l-2.85 4.9zM476.42 330.57h5.7l-2.85 4.9zM484.93 330.57h5.7l-2.85 4.9zM496.15 331.09h5.7l-2.85 4.9zM502.38 331.09h5.7l-2.85 4.9zM508.61 331.09h5.7l-2.85 4.9zM515.36 331.09h5.7l-2.85 4.9zM552.02 334.21h5.7l-2.85 4.9zM458.76 337.32h5.7l-2.85 4.9zM465.20 337.32h5.7l-2.85 4.9zM471.43 337.32h5.7l-2.85 4.9zM489.92 337.32h5.7l-2.85 4.9zM502.17 337.32h5.7l-2.85 4.9zM538.72 339.92h5.7l-2.85 4.9zM452.53 343.55h5.7l-2.85 4.9zM471.43 343.55h5.7l-2.85 4.9zM489.92 343.55h5.7l-2.85 4.9zM508.61 343.55h5.7l-2.85 4.9zM543.40 343.03h5.7l-2.85 4.9zM549.11 343.03h5.7l-2.85 4.9zM515.36 351.34h5.7l-2.85 4.9zM542.88 348.74h5.7l-2.85 4.9zM549.63 348.74h5.7l-2.85 4.9zM555.86 351.34h5.7l-2.85 4.9zM561.57 351.34h5.7l-2.85 4.9zM533.53 358.09h5.7l-2.85 4.9zM542.88 354.97h5.7l-2.85 4.9zM552.02 357.05h5.7l-2.85 4.9zM463.44 361.72h5.7l-2.85 4.9zM497.19 360.17h5.7l-2.85 4.9zM512.97 360.17h5.7l-2.85 4.9zM443.71 366.65h5.7l-2.85 4.9zM452.02 366.65h5.7l-2.85 4.9zM459.80 366.65h5.7l-2.85 4.9zM467.59 366.65h5.7l-2.85 4.9zM473.30 366.65h5.7l-2.85 4.9zM479.53 364.05h5.7l-2.85 4.9zM484.73 364.05h5.7l-2.85 4.9zM490.96 366.65h5.7l-2.85 4.9zM496.15 366.65h5.7l-2.85 4.9zM504.97 366.65h5.7l-2.85 4.9zM510.17 366.65h5.7l-2.85 4.9zM515.88 368.73h5.7l-2.85 4.9zM521.59 367.17h5.7l-2.85 4.9zM527.30 366.65h5.7l-2.85 4.9zM532.49 366.65h5.7l-2.85 4.9zM448.38 372.36h5.7l-2.85 4.9zM454.09 372.36h5.7l-2.85 4.9zM465.51 372.36h5.7l-2.85 4.9zM471.75 372.36h5.7l-2.85 4.9zM479.33 372.36h5.7l-2.85 4.9zM493.55 372.88h5.7l-2.85 4.9zM499.78 372.88h5.7l-2.85 4.9zM506.01 372.36h5.7l-2.85 4.9zM511.93 372.36h5.7l-2.85 4.9zM518.99 370.80h5.7l-2.85 4.9zM526.05 372.36h5.7l-2.85 4.9zM531.66 372.36h5.7l-2.85 4.9zM539.24 379.11h5.7l-2.85 4.9zM544.43 379.11h5.7l-2.85 4.9zM550.15 379.11h5.7l-2.85 4.9zM552.74 383.26h5.7l-2.85 4.9zM559.49 383.26h5.7l-2.85 4.9zM565.51 382.23h5.7l-2.85 4.9zM541.84 385.86h5.7l-2.85 4.9zM547.03 385.86h5.7l-2.85 4.9zM552.22 388.98h5.7l-2.85 4.9zM556.38 390.53h5.7l-2.85 4.9zM562.61 387.94h5.7l-2.85 4.9zM565.72 392.61h5.7l-2.85 4.9zM451.70 393.65h5.7l-2.85 4.9zM459.28 393.65h5.7l-2.85 4.9zM467.07 393.65h5.7l-2.85 4.9zM474.86 393.65h5.7l-2.85 4.9zM482.65 393.65h5.7l-2.85 4.9zM492.51 393.65h5.7l-2.85 4.9zM500.09 393.65h5.7l-2.85 4.9zM507.78 393.65h5.7l-2.85 4.9zM515.67 393.65h5.7l-2.85 4.9zM523.15 393.65h5.7l-2.85 4.9zM532.70 393.65h5.7l-2.85 4.9zM540.28 393.65h5.7l-2.85 4.9zM547.55 393.65h5.7l-2.85 4.9z" fill="none" stroke="#3a3a3a" stroke-width="0.7" stroke-linejoin="miter"/>
<rect x="52.0" y="367.5" width="7.2" height="7.2" fill="none" stroke="#666" stroke-width="0.8"/>
<rect x="559.8" y="367.5" width="7.2" height="7.2" fill="none" stroke="#666" stroke-width="0.8"/>
<!-- board outline -->
<path d="M45,185.3 L574.5,185.3 L579,189.8 L579,247.3 L570,247.3 A4.5,4.5 0 0 0 565.5,251.8 L565.5,273.3 A4.5,4.5 0 0 0 570,277.8 L579,277.8 L579,412.9 L574.5,417.4 L343,417.4 A2.4,2.4 0 0 1 340.6,415 L340.6,390.3 A3.9,3.9 0 0 0 332.8,390.3 L332.8,415 A2.4,2.4 0 0 1 330.4,417.4 L45,417.4 L40.2,412.6 L40.2,277.8 L49.3,277.8 A4.5,4.5 0 0 0 53.8,273.3 L53.8,251.8 A4.5,4.5 0 0 0 49.3,247.3 L40.2,247.3 L40.2,190 Z" fill="none" stroke="#000" stroke-width="1.7"/>
<text x="40" y="182" font-size="12.3" fill="#222" textLength="160" lengthAdjust="spacingAndGlyphs">Drill Drawing View (Scale 5:2)</text>
<!-- dimensions -->
<g stroke="#3a93d6" stroke-width="1" fill="none">
<line x1="580" y1="185.5" x2="673" y2="185.5"/>
<line x1="580" y1="417" x2="673" y2="417"/>
<line x1="671.5" y1="186" x2="671.5" y2="260"/>
<line x1="671.5" y1="330" x2="671.5" y2="417"/>
<line x1="580" y1="247.3" x2="624" y2="247.3"/>
<line x1="580" y1="277.8" x2="624" y2="277.8"/>
<line x1="623" y1="228" x2="623" y2="247"/>
<line x1="623" y1="278" x2="623" y2="297"/>
<line x1="40.5" y1="418" x2="40.5" y2="546"/>
<line x1="578.5" y1="418" x2="578.5" y2="546"/>
<line x1="41" y1="544.5" x2="293" y2="544.5"/>
<line x1="364" y1="544.5" x2="578" y2="544.5"/>
<line x1="332.8" y1="418" x2="332.8" y2="475"/>
<line x1="340.6" y1="404" x2="340.6" y2="475"/>
<line x1="313" y1="473.3" x2="332" y2="473.3"/>
<line x1="341" y1="473.3" x2="360" y2="473.3"/>
</g>
<g fill="#1a76c6">
<polygon points="671.5,186 669.8,196 673.2,196"/>
<polygon points="671.5,416.8 669.8,406.8 673.2,406.8"/>
<polygon points="623,247 621.3,237 624.7,237"/>
<polygon points="623,278 621.3,288 624.7,288"/>
<polygon points="41,544.5 51,542.8 51,546.2"/>
<polygon points="578,544.5 568,542.8 568,546.2"/>
<polygon points="332.5,473.3 322.5,471.6 322.5,475"/>
<polygon points="341,473.3 351,471.6 351,475"/>
</g>
<g fill="#cc2626" font-size="11.5">
<text x="0" y="0" transform="translate(668.5,323) rotate(-90)" textLength="57" lengthAdjust="spacingAndGlyphs">[30.03mm]</text>
<text x="0" y="0" transform="translate(682.5,323) rotate(-90)" textLength="57" lengthAdjust="spacingAndGlyphs">1182.10mil</text>
<text x="0" y="0" transform="translate(621,354) rotate(-90)" textLength="50" lengthAdjust="spacingAndGlyphs">[3.97mm]</text>
<text x="0" y="0" transform="translate(635,354) rotate(-90)" textLength="50" lengthAdjust="spacingAndGlyphs">156.48mil</text>
<text x="269" y="470.5" textLength="50" lengthAdjust="spacingAndGlyphs">[0.97mm]</text>
<text x="272" y="484" textLength="44" lengthAdjust="spacingAndGlyphs">38.37mil</text>
<text x="300" y="541.5" textLength="57" lengthAdjust="spacingAndGlyphs">[69.63mm]</text>
<text x="300" y="555" textLength="56" lengthAdjust="spacingAndGlyphs">2741.16mil</text>
</g>
<!-- balloons -->
<g stroke="#e8913a" stroke-width="2.5" fill="none" stroke-linecap="round">
<line x1="287.6" y1="148.3" x2="315.6" y2="185.3"/>
<line x1="674.5" y1="129.8" x2="718.3" y2="145.5"/>
<line x1="516.9" y1="631" x2="454" y2="643.2"/>
</g>
<g fill="#e8913a"><circle cx="287.6" cy="148.3" r="9.5"/><circle cx="674.5" cy="129.8" r="9.5"/><circle cx="516.9" cy="631" r="9.5"/></g>
<g fill="#111" font-size="9.6" font-weight="bold" text-anchor="middle">
<text x="287.3" y="151.8">5</text><text x="674.3" y="132.3">7</text><text x="516.6" y="634.5">3</text>
</g>
<!-- drill table -->
<text x="57.5" y="630.8" font-size="15" fill="#111">Drill Table</text>
<g stroke="#6e6e6e" stroke-width="1">
<rect x="57.5" y="634.5" width="395.5" height="18" fill="#c3c3c3"/>
<rect x="57.5" y="652.5" width="395.5" height="17.5" fill="#d3d3d3"/>
<rect x="57.5" y="670" width="395.5" height="17.5" fill="#c5c5c5"/>
<rect x="57.5" y="687.5" width="395.5" height="17.5" fill="#d3d3d3"/>
<line x1="113.5" y1="634.5" x2="113.5" y2="705"/>
<line x1="182.3" y1="634.5" x2="182.3" y2="705"/>
<line x1="252.5" y1="634.5" x2="252.5" y2="705"/>
<line x1="333.5" y1="634.5" x2="333.5" y2="705"/>
</g>
<g font-size="14.65" fill="#111">
<text x="61" y="648.5">Symbol</text><text x="117" y="648.5">Count</text><text x="186" y="648.5">Hole Size</text><text x="256" y="648.5">Plated</text><text x="337" y="648.5">Hole Tolerance</text>
<text x="117" y="666">785</text><text x="186" y="666">7.87mil</text><text x="256" y="666">Plated</text><text x="337" y="666">+0.00mil/-3.00mil</text>
<text x="117" y="683.5">2</text><text x="186" y="683.5">70.87mil</text><text x="256" y="683.5">Non-Plated</text><text x="337" y="683.5">+/-1.00mil</text>
<text x="117" y="701">787 Total</text>
</g>
<polygon points="64.4,661.6 70.2,661.6 67.3,666.6" fill="none" stroke="#555" stroke-width="0.7"/>
<rect x="64.3" y="677.6" width="6.3" height="6.3" fill="none" stroke="#555" stroke-width="0.7"/>
<!-- title block -->
<g stroke="#8c8c8c" stroke-width="1.05" fill="none">
<rect x="993.5" y="863.3" width="290.7" height="39.9"/>
<line x1="993.5" y1="890.5" x2="1284.3" y2="890.5"/>
</g>
<g stroke="#333" stroke-width="1" fill="none">
<line x1="1018" y1="863.5" x2="1018" y2="890.5"/>
<line x1="1101.3" y1="863.5" x2="1101.3" y2="890.5"/>
<line x1="1262.5" y1="863.5" x2="1262.5" y2="890.5"/>
<line x1="1039.4" y1="890.5" x2="1039.4" y2="903"/>
<line x1="1216.3" y1="890.5" x2="1216.3" y2="903"/>
</g>
<g fill="#555" font-size="4.5">
<text x="1000" y="868.5">SIZE:</text><text x="1019.5" y="868.5">CAGE CODE:</text><text x="1103" y="868.5">DWG NO:</text><text x="1267" y="868.5">REV:</text>
<text x="995" y="895.5">SCALE:</text><text x="1041" y="895.5">FILE NAME:</text><text x="1227" y="895.5">SHEET:</text><text x="1258" y="894">OF</text>
</g>
<text x="995" y="886" font-size="17" font-weight="bold" fill="#000" textLength="22" lengthAdjust="spacingAndGlyphs">A3</text>
<text x="1023" y="884.5" font-size="13" fill="#111" textLength="74" lengthAdjust="spacingAndGlyphs">=CAGE_CO</text>
<text x="1143" y="880.8" font-size="10.3" fill="#222" textLength="90.5" lengthAdjust="spacingAndGlyphs">DOC_NO_FAB_DWG</text>
<text x="1131.5" y="879" font-size="5" fill="#888">=</text><text x="1133" y="881.5" font-size="10.3" fill="#333" textLength="14" lengthAdjust="spacingAndGlyphs">PQ</text><text x="1146" y="880" font-size="7" fill="#333">4</text>
<text x="1248" y="901" font-size="8.5" fill="#222">2</text><text x="1270.5" y="901" font-size="8.5" fill="#222">3</text>
<!-- right side rotated block -->
<text x="1265.5" y="693.3" font-size="17.5" font-weight="bold" fill="#000" textLength="16" lengthAdjust="spacingAndGlyphs">.lt</text>
<g stroke="#7a7a7a" stroke-width="0.9" fill="none">
<rect x="1284.5" y="698.3" width="12.2" height="87"/>
<line x1="1284.5" y1="769.4" x2="1296.7" y2="769.4"/>
</g>
<text transform="translate(1286.5,711.5) rotate(90)" font-size="6.5" fill="#222" textLength="56" lengthAdjust="spacingAndGlyphs">=DOC_NO_ASSY_</text>
<text transform="translate(1292.5,702) rotate(90)" font-size="3.5" fill="#888" textLength="9" lengthAdjust="spacingAndGlyphs">DWG NO</text><text transform="translate(1292.5,773) rotate(90)" font-size="3.5" fill="#888" textLength="5" lengthAdjust="spacingAndGlyphs">REV</text>
<text transform="translate(1286.5,773) rotate(90)" font-size="6" fill="#222" textLength="10" lengthAdjust="spacingAndGlyphs">.lte</text>
</svg></body></html>
